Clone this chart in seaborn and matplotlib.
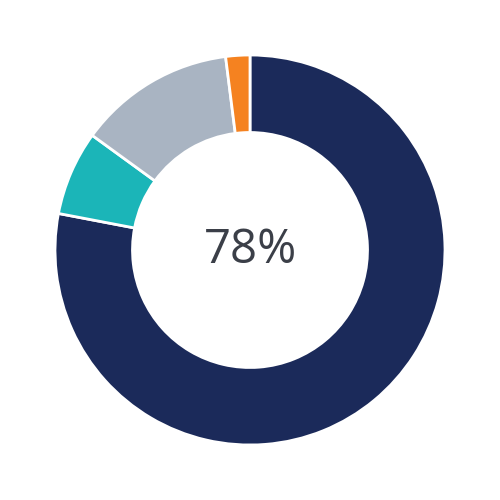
import matplotlib
matplotlib.use('Agg')
import matplotlib.pyplot as plt
import seaborn as sns

sns.set_theme(style='white')
plt.rcParams['font.family'] = ['Open Sans', 'DejaVu Sans']

# Share of each segment (percent), clockwise from top
labels = ['Main', 'Teal', 'Gray', 'Orange']
values = [78, 7, 13, 2]
colors = ['#1b2a5a', '#1bb5b8', '#a9b4c2', '#f58220']
center_label = '78%'

fig, ax = plt.subplots(figsize=(5, 5), dpi=100)
ax.pie(values, colors=colors, startangle=90, counterclock=False,
       radius=0.78, wedgeprops=dict(width=0.31, edgecolor='white', linewidth=2))
ax.text(0, 0, center_label, ha='center', va='center', fontsize=34, color='#3b3f48')
ax.set_xlim(-1, 1)
ax.set_ylim(-1, 1)
ax.set_aspect('equal')
ax.axis('off')
fig.subplots_adjust(0, 0, 1, 1)
fig.savefig('out.png')
